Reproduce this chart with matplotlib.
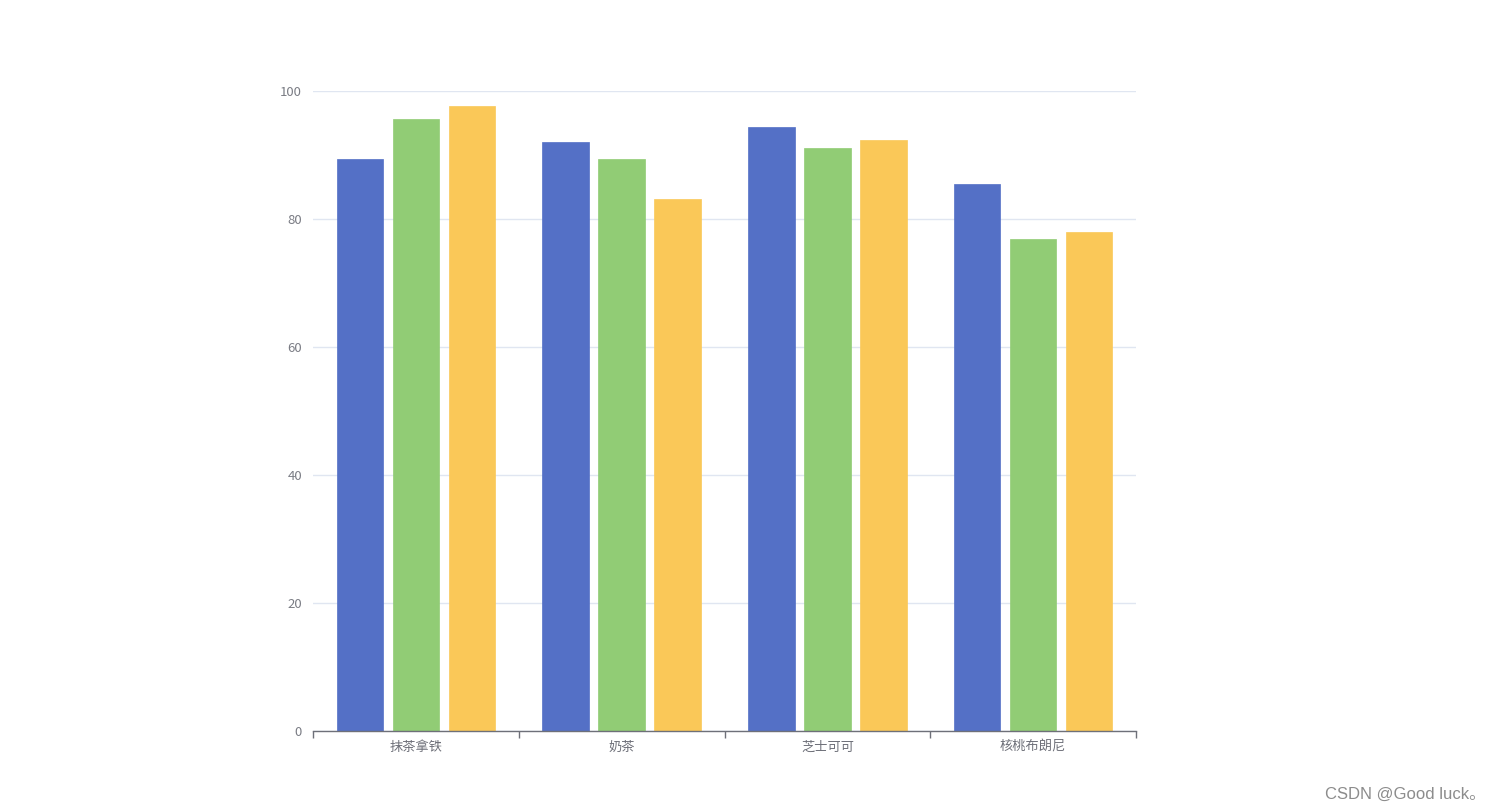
import numpy as np
import matplotlib
matplotlib.use("Agg")
import matplotlib.pyplot as plt

plt.rcParams['font.family'] = ['Noto Sans CJK SC', 'DejaVu Sans']

# data
categories = ["抹茶拿铁", "奶茶", "芝士可可", "核桃布朗尼"]
series_a = [89.3, 92.1, 94.4, 85.4]
series_b = [95.7, 89.4, 91.1, 76.9]
series_c = [97.7, 83.1, 92.4, 78.0]
y_ticks = [0, 20, 40, 60, 80, 100]

colors = ["#5470c6", "#91cc75", "#fac858"]
axis_color = "#6e7079"

fig = plt.figure(figsize=(15.04, 8.10), dpi=100)
ax = fig.add_axes([313 / 1504, 1 - 731 / 810, (1136 - 313) / 1504, (731 - 91) / 810])

x = np.arange(len(categories))
width = 0.226
step = 0.272
for i, vals in enumerate([series_a, series_b, series_c]):
    ax.bar(x + (i - 1) * step, vals, width, color=colors[i], zorder=3,
           edgecolor=colors[i], linewidth=0.5)

ax.set_xlim(-0.5, len(categories) - 0.5)
ax.set_ylim(0, 100)

# y axis: only labels + horizontal grid
ax.set_yticks(y_ticks)
ax.set_yticklabels([str(t) for t in y_ticks])
ax.tick_params(axis="y", length=0, pad=8, labelsize=9.5, labelcolor="#7a7c84")
ax.grid(axis="y", color="#e0e6f1", linewidth=1, zorder=0)

# x axis: ticks at category boundaries, labels at centres
ax.set_xticks(np.arange(-0.5, len(categories)), minor=False)
ax.set_xticklabels([""] * (len(categories) + 1))
ax.set_xticks(x, minor=True)
ax.set_xticklabels(categories, minor=True)
ax.tick_params(axis="x", which="major", length=5, color=axis_color, width=1)
ax.tick_params(axis="x", which="minor", length=0, pad=7, labelsize=9.5, labelcolor=axis_color)

for side in ["top", "right", "left"]:
    ax.spines[side].set_visible(False)
ax.spines["bottom"].set_color(axis_color)
ax.spines["bottom"].set_linewidth(1)
ax.spines["bottom"].set_zorder(4)

fig.text(1486 / 1504, 1 - 794 / 810, "CSDN @Good luck。", ha="right", va="center",
         fontsize=12, color="#8c8c8c", family=['Liberation Sans', 'Noto Sans CJK SC'])

fig.savefig("out.png", dpi=100, facecolor="white")
